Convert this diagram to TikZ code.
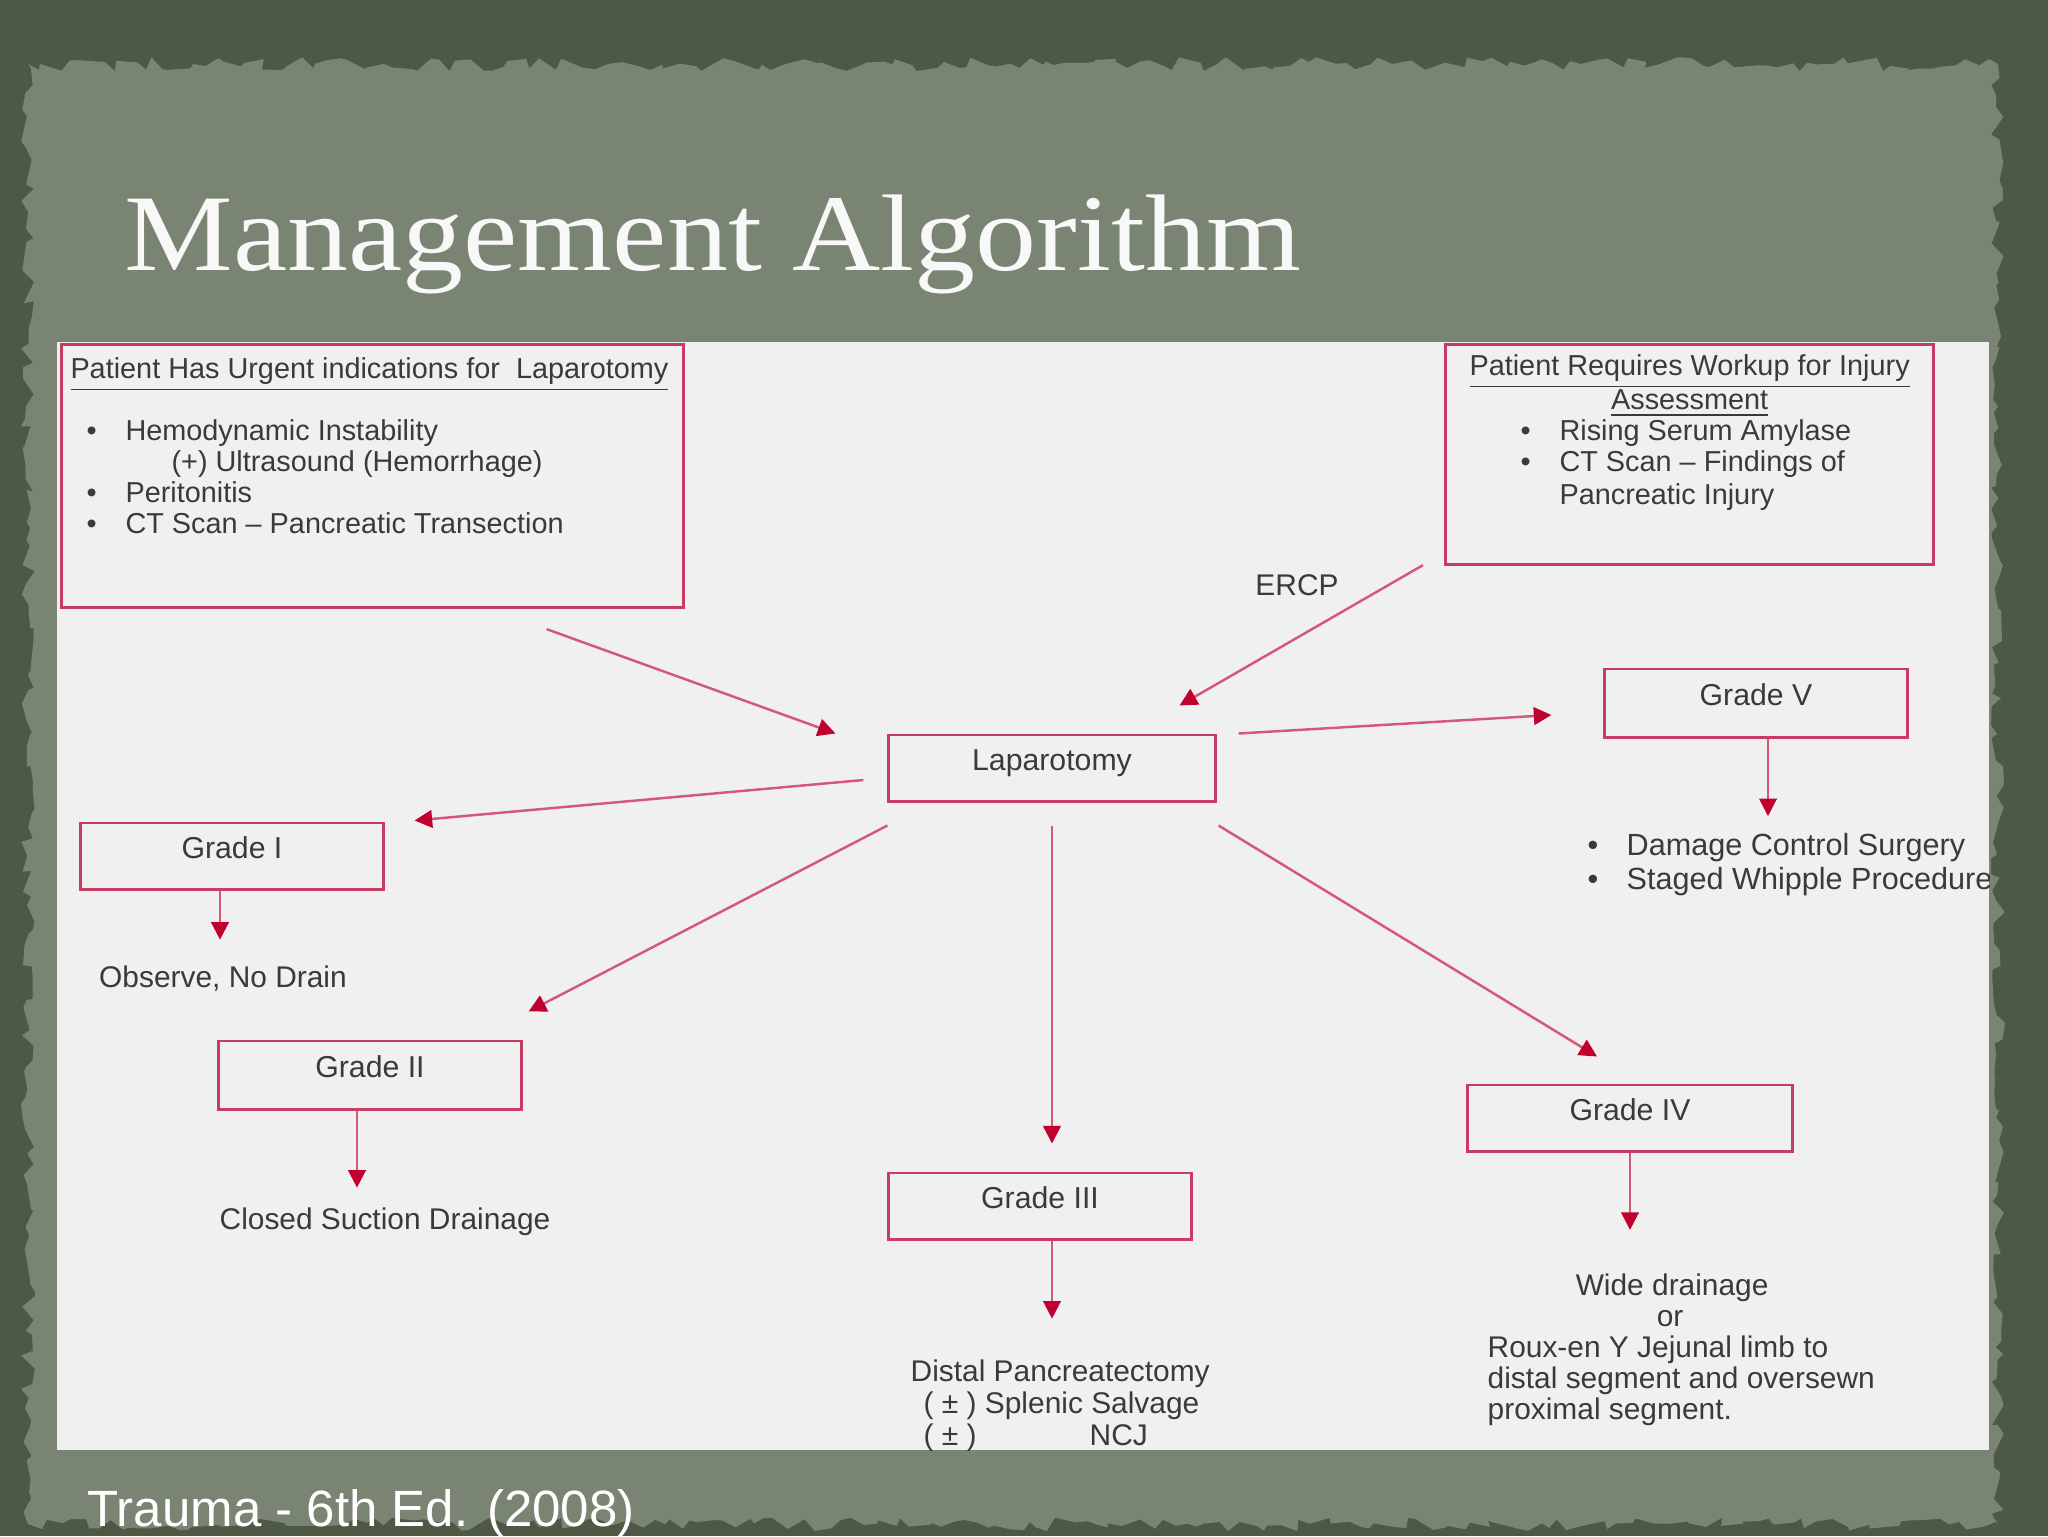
\documentclass[tikz,border=0pt]{standalone}
\usepackage{fontspec}
\setmainfont{Liberation Sans}
\newfontfamily\titlefont[FakeStretch=1.12]{Liberation Serif}
\usetikzlibrary{arrows.meta,calc,decorations.pathmorphing}
\definecolor{frame}{HTML}{4D5944}
\definecolor{panel}{HTML}{7A8473}
\definecolor{sheet}{HTML}{F0F0F0}
\definecolor{boxred}{HTML}{C83C64}
\definecolor{linepink}{HTML}{D4587A}
\definecolor{headred}{HTML}{C0002F}
\definecolor{ink}{HTML}{3A3A3A}
\newcommand{\bul}[2]{\hspace*{#1}\makebox[0.39cm][l]{\textbullet}#2}

\tikzset{
  entrybox/.style={draw=boxred, line width=0.85pt, inner sep=0pt, text=ink, font=\fontsize{8.2}{8.8}\selectfont},
  gradebox/.style={draw=boxred, line width=0.85pt, minimum width=3.02cm, minimum height=0.66cm, inner sep=0pt,
    text height=6pt, text depth=4.6pt, text=ink, font=\fontsize{8.6}{10}\selectfont},
  txt/.style={inner sep=0pt, text=ink, font=\fontsize{8.5}{8.9}\selectfont},
  arr/.style={draw=linepink, line width=0.7pt, -{Triangle[length=5pt,width=5pt,color=headred]}}
}

\begin{document}
\begin{tikzpicture}[x=0.01cm, y=-0.01cm]
    % slide background
    \fill[frame] (0,0) rectangle (2048,1536);
    \pgfmathsetseed{3}
    \fill[panel, decorate, decoration={random steps, segment length=3pt, amplitude=2pt}] (28,64) rectangle (1998,1524);
    \fill[sheet] (57,342) rectangle (1989,1450);
    \node[anchor=base west, inner sep=0pt, text=white!94!panel, font=\titlefont\fontsize{31}{31}\selectfont] (title) at (124,270) {Management Algorithm};
    \node[anchor=base west, inner sep=0pt, text=white, font=\fontsize{14.5}{14.5}\selectfont] (source) at (87,1526) {Trauma - 6th Ed. (2008)};

    \begin{scope}
        \clip (57,342) rectangle (1989,1450);
        % entry boxes
        \node[entrybox, anchor=north west] (urgent) at (60,343) {\parbox[c][2.63cm][t]{6.22cm}{\raggedright
            \hspace*{0.09cm}\rule{0pt}{0.34cm}\underline{Patient Has Urgent indications for\ \ Laparotomy}\\[0.25cm]
            \bul{0.25cm}{Hemodynamic Instability}\\
            \hspace*{1.10cm}(+) Ultrasound (Hemorrhage)\\
            \bul{0.25cm}{Peritonitis}\\
            \bul{0.25cm}{CT Scan – Pancreatic Transection}}};
        \node[entrybox, anchor=north west] (workup) at (1444,343) {\parbox[c][2.20cm][t]{4.88cm}{\centering
            \rule{0pt}{0.31cm}\underline{Patient Requires Workup for Injury}\\[-0.02cm]
            \underline{Assessment}\par\raggedright
            \bul{0.75cm}{Rising Serum Amylase}\\
            \bul{0.75cm}{CT Scan – Findings of}\\[0.02cm]
            \hspace*{1.14cm}Pancreatic Injury}};
        \node[txt, anchor=base] (ercp) at (1297,595) {ERCP};

        % grades
        \node[gradebox, minimum width=3.26cm] (lap) at (1052,768) {Laparotomy};
        \node[gradebox, minimum height=0.68cm] (g5) at (1756,703) {Grade V};
        \node[gradebox] (g1) at (232,856) {Grade I};
        \node[gradebox, minimum height=0.68cm] (g2) at (370,1075) {Grade II};
        \node[gradebox] (g3) at (1040,1206) {Grade III};
        \node[gradebox, minimum width=3.24cm] (g4) at (1630,1118) {Grade IV};

        % outcomes (base = last line)
        \node[txt, anchor=base] (obs) at (223,987) {Observe, No Drain};
        \node[txt, anchor=base] (csd) at (385,1229) {Closed Suction Drainage};
        \node[txt, anchor=base west, align=left, font=\fontsize{8.7}{9.4}\selectfont] (dcs) at (1587,889)
            {\makebox[0.39cm][l]{\textbullet}Damage Control Surgery\\ \makebox[0.39cm][l]{\textbullet}Staged Whipple Procedure};
        \node[txt, anchor=base west, align=left, font=\fontsize{8.5}{9.1}\selectfont] (distal) at (910,1445)
            {Distal Pancreatectomy\\ \hspace*{0.13cm}( ± ) Splenic Salvage\\ \hspace*{0.13cm}( ± )\hspace{1.13cm}NCJ};
        \node[txt, anchor=base west, align=left, font=\fontsize{8.5}{8.8}\selectfont] (wide) at (1487,1419)
            {\hspace*{0.88cm}Wide drainage\\ \hspace*{1.69cm}or\\ Roux-en Y Jejunal limb to\\ distal segment and oversewn\\ proximal segment.};

        % connectors
        \draw[arr] ($(urgent.south)+(174,20)$) -- ($(lap.north west)+(-52,0)$);
        \draw[arr] ($(workup.south west)+(-21,-1)$) -- ($(lap.north east)+(-37,-28)$);
        \draw[arr] ($(lap.north east)+(22,0)$) -- ($(g5.west)+(-52,12)$);
        \draw[arr] ($(lap.west)+(-24,12)$) -- ($(g1.north east)+(30,-1)$);
        \draw[arr] ($(lap.south west)+(0,23)$) -- ($(g2.north east)+(6,-28)$);
        \draw[arr] ($(lap.south)+(0,23)$) -- ($(g3.north)+(12,-28)$);
        \draw[arr] ($(lap.south east)+(2,23)$) -- ($(g4.north)+(-33,-27)$);
        \draw[arr] ($(g1.south)+(-12,0)$) -- ($(obs.north)+(-3,-25)$);
        \draw[arr] ($(g2.south)+(-13,0)$) -- ($(csd.north)+(-28,-19)$);
        \draw[arr] ($(g3.south)+(12,0)$) -- ($(distal.north west)+(142,-40)$);
        \draw[arr] ($(g4.south)+(0,0)$) -- ($(wide.north west)+(143,-43)$);
        \draw[arr] ($(g5.south)+(12,0)$) -- ($(dcs.north west)+(181,-17)$);
    \end{scope}
\end{tikzpicture}
\end{document}
